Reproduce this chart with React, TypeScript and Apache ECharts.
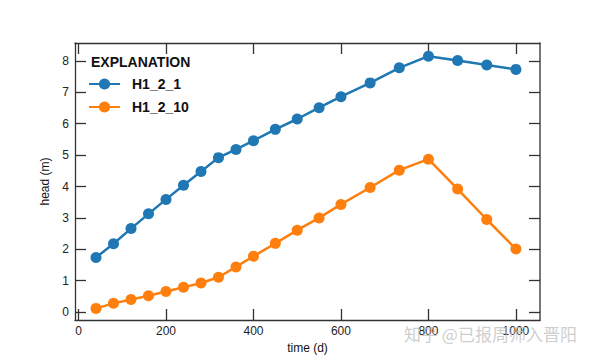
import React, { useEffect, useRef } from "react";
import * as echarts from "echarts";

const times = [40, 80, 120, 160, 200, 240, 280, 320, 360, 400, 450, 500, 550, 600, 666.7, 733.3, 800, 866.7, 933.3, 1000];
const h1_2_1 = [1.74, 2.18, 2.66, 3.13, 3.59, 4.04, 4.48, 4.92, 5.18, 5.46, 5.82, 6.15, 6.51, 6.86, 7.3, 7.78, 8.15, 8.01, 7.87, 7.73];
const h1_2_10 = [0.12, 0.28, 0.4, 0.52, 0.66, 0.79, 0.93, 1.11, 1.44, 1.78, 2.19, 2.61, 3.0, 3.43, 3.97, 4.52, 4.87, 3.92, 2.95, 2.01];
const xTicks = [0, 200, 400, 600, 800, 1000];
const yTicks = [0, 1, 2, 3, 4, 5, 6, 7, 8];
const seriesNames = ["H1_2_1", "H1_2_10"];

const FONT = "'Liberation Sans Narrow', 'Arial Narrow', 'Liberation Sans', sans-serif";

export default function App() {
  const ref = useRef<HTMLDivElement>(null);
  useEffect(() => {
    const chart = echarts.init(ref.current!, null, { renderer: "svg" });
    const axisLine = { show: true, onZero: false, lineStyle: { color: "#333", width: 1.3 } };
    const tickIn = (vals: number[]) => ({
      show: true,
      inside: true,
      length: 11,
      customValues: vals,
      lineStyle: { color: "#333", width: 1.3 },
    });
    chart.setOption({
      animation: false,
      grid: { left: 75, right: 60, top: 43, bottom: 40 },
      legend: {
        orient: "vertical",
        left: 88,
        top: 77,
        padding: 0,
        itemWidth: 31,
        itemHeight: 14,
        itemGap: 9,
        data: seriesNames,
        textStyle: { fontFamily: FONT, fontSize: 14, fontWeight: "bold", color: "#111", padding: [0, 0, 0, 7] },
      },
      graphic: [
        {
          type: "text",
          left: 91,
          top: 55,
          style: { text: "EXPLANATION", font: `bold 14px ${FONT}`, fill: "#111" },
        },
        {
          type: "text",
          x: 404,
          y: 325,
          z: 100,
          style: { text: "知乎 @已报周师入晋阳", font: "17px 'Noto Sans CJK SC', sans-serif", fill: "rgba(190,190,190,0.75)" },
        },
      ],
      xAxis: [
        {
          type: "value",
          min: -8,
          max: 1055,
          name: "time (d)",
          nameLocation: "middle",
          nameGap: 22,
          nameTextStyle: { fontFamily: FONT, fontSize: 12, color: "#111" },
          axisLine,
          axisTick: tickIn(xTicks),
          axisLabel: { customValues: xTicks, margin: 5, fontFamily: FONT, fontSize: 12, color: "#222", formatter: (v: number) => String(v) },
          splitLine: { show: false },
        },
        {
          type: "value",
          position: "top",
          min: -8,
          max: 1055,
          axisLine,
          axisTick: tickIn(xTicks),
          axisLabel: { show: false },
          splitLine: { show: false },
        },
      ],
      yAxis: [
        {
          type: "value",
          min: -0.25,
          max: 8.57,
          name: "head (m)",
          nameLocation: "middle",
          nameGap: 17,
          nameTextStyle: { fontFamily: FONT, fontSize: 12, color: "#111" },
          axisLine,
          axisTick: tickIn(yTicks),
          axisLabel: { customValues: yTicks, margin: 6, fontFamily: FONT, fontSize: 12, color: "#222" },
          splitLine: { show: false },
        },
        {
          type: "value",
          position: "right",
          min: -0.25,
          max: 8.57,
          axisLine: { show: true, onZero: false, lineStyle: { color: "#555", width: 1.6 } },
          axisTick: tickIn(yTicks),
          axisLabel: { show: false },
          splitLine: { show: false },
        },
      ],
      series: [
        {
          name: seriesNames[0],
          type: "line",
          data: times.map((t, i) => [t, h1_2_1[i]]),
          symbol: "circle",
          symbolSize: 11,
          color: "#1f77b4",
          lineStyle: { width: 2.5, color: "#1f77b4" },
          itemStyle: { color: "#1f77b4" },
        },
        {
          name: seriesNames[1],
          type: "line",
          data: times.map((t, i) => [t, h1_2_10[i]]),
          symbol: "circle",
          symbolSize: 11,
          color: "#ff7f0e",
          lineStyle: { width: 2.5, color: "#ff7f0e" },
          itemStyle: { color: "#ff7f0e" },
        },
      ],
    });
    return () => chart.dispose();
  }, []);
  return <div ref={ref} style={{ width: 600, height: 360, position: "absolute", left: 0, top: 0 }} />;
}
